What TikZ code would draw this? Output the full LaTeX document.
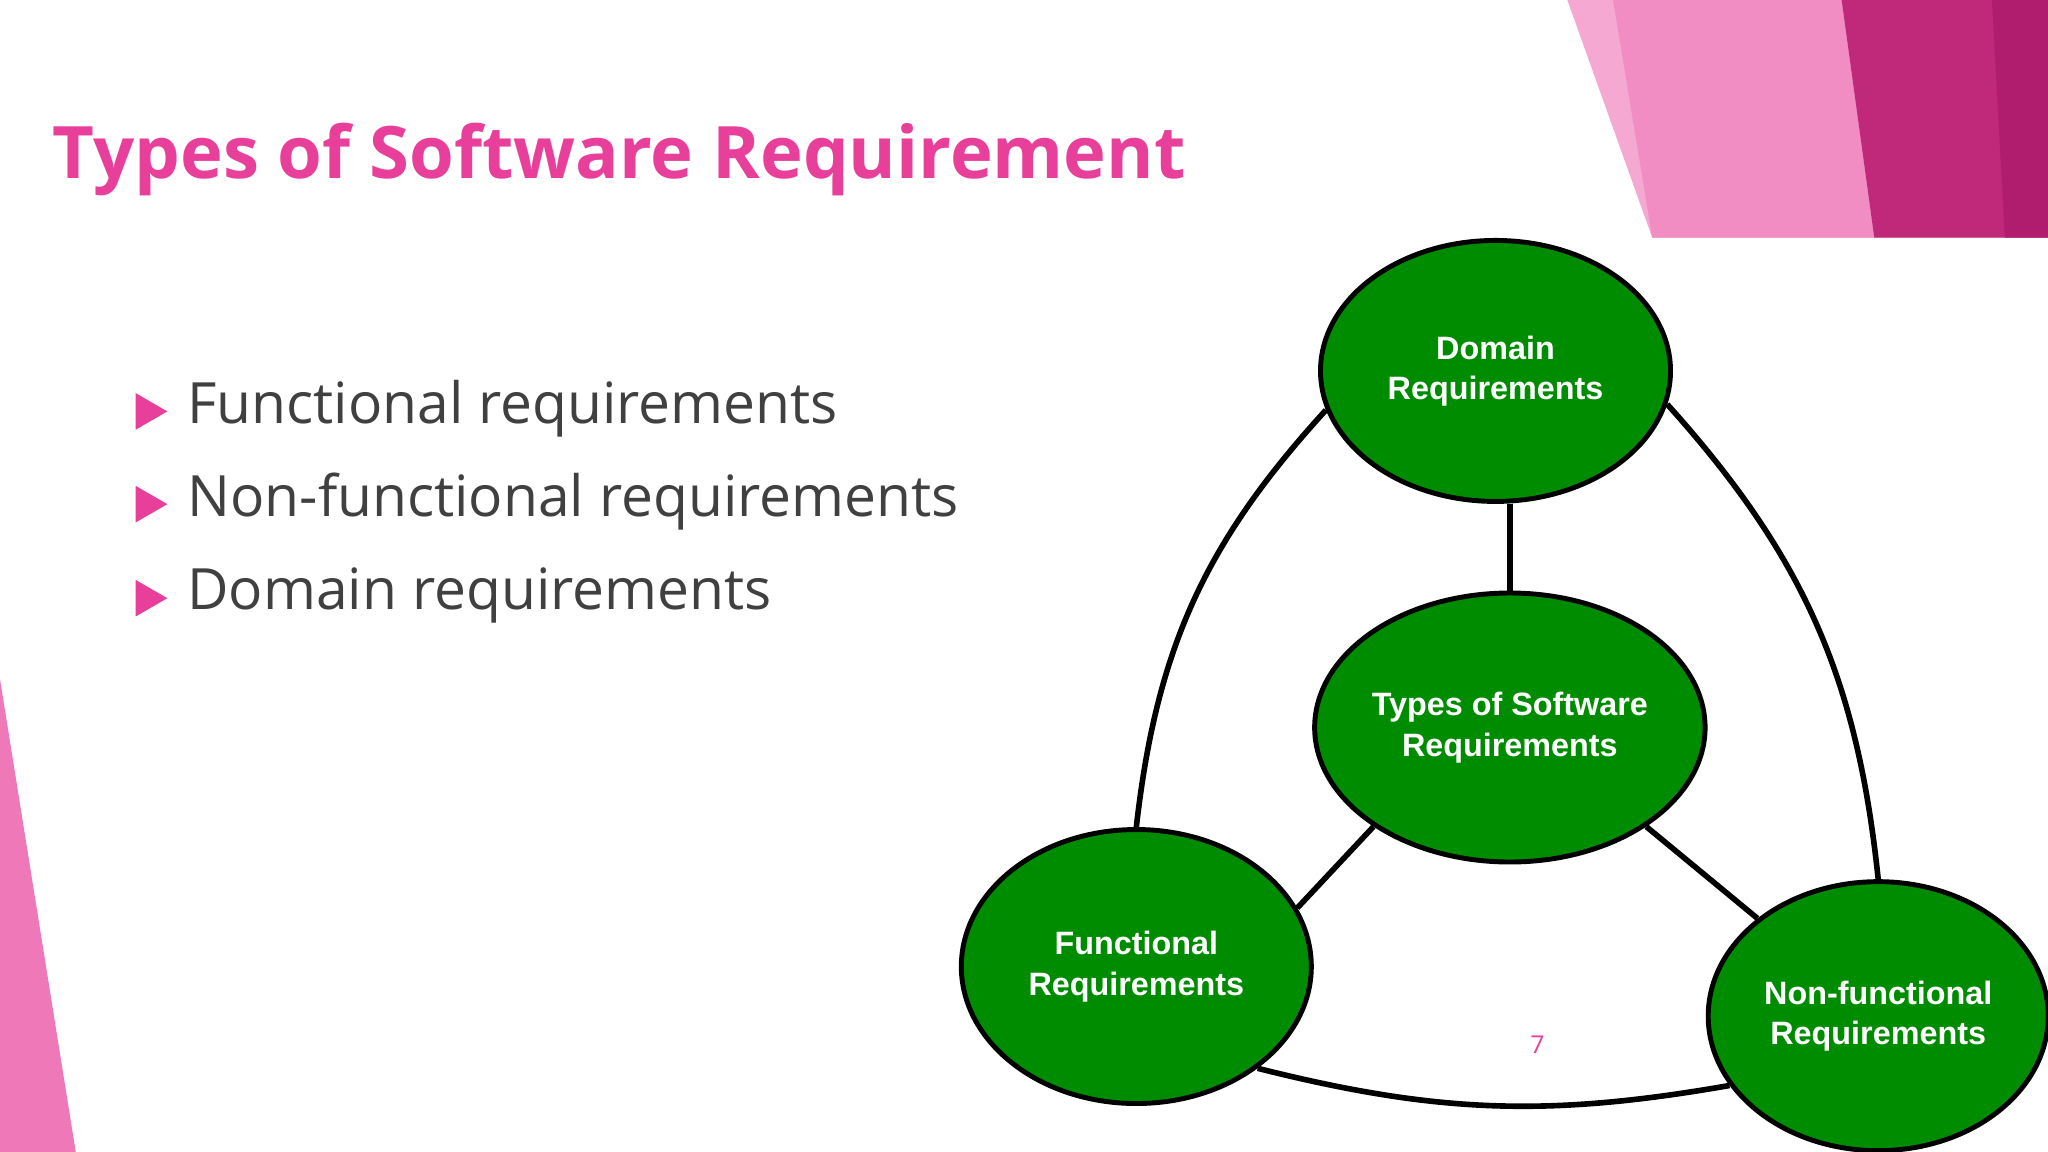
\documentclass[tikz,border=0pt]{standalone}
\usepackage{fontspec}
\setmainfont{Open Sans}
\newfontfamily\nodefont{Liberation Sans}
\usetikzlibrary{shapes.geometric}
\definecolor{pinkT}{HTML}{E8409A}
\definecolor{greenN}{HTML}{008C00}
\definecolor{mag}{HTML}{C0287A}
\definecolor{magd}{HTML}{B01C6E}
\tikzset{
  req/.style={ellipse,draw=black,line width=1.4pt,fill=greenN,text=white,font=\nodefont\bfseries\fontsize{9.2}{11.5}\selectfont,align=center,inner sep=0pt},
  link/.style={line width=1.6pt,black},
  bul/.style={anchor=west,text=black!75,font=\fontsize{16.2}{19}\selectfont,inner sep=0pt},
  tri/.style={regular polygon,regular polygon sides=3,shape border rotate=-90,fill=pinkT,inner sep=0pt,minimum size=12pt}
}
\begin{document}
\begin{tikzpicture}[x=0.013061cm,y=-0.013061cm]
\useasboundingbox (0,0) rectangle (1568,882);
\fill[white] (0,0) rectangle (1568,882);
% decorations
\fill[pinkT!45] (1200,0) -- (1568,0) -- (1568,182) -- (1265,182) -- cycle;
\fill[pinkT!60] (1235,0) -- (1410,0) -- (1435,182) -- (1265,182) -- cycle;
\fill[mag] (1410,0) -- (1568,0) -- (1568,182) -- (1435,182) -- cycle;
\fill[magd] (1525,0) -- (1568,0) -- (1568,182) -- (1535,182) -- cycle;
\fill[pinkT!70] (0,520) -- (0,882) -- (58,882) -- cycle;
% title
\node[anchor=west,text=pinkT,font=\bfseries\fontsize{20.6}{24}\selectfont,inner sep=0pt] (title) at (40,122) {Types of Software Requirement};
% bullets
\node[tri] (t1) at (112,315) {};
\node[bul] (b1) at (143,313) {Functional requirements};
\node[tri] (t2) at (112,386) {};
\node[bul] (b2) at (143,384) {Non-functional requirements};
\node[tri] (t3) at (112,458) {};
\node[bul] (b3) at (143,456) {Domain requirements};
% page number
\node[text=pinkT,font=\fontsize{7}{8}\selectfont] (pg) at (1177,800) {7};
% diagram
\node[req,minimum width=3.5cm,minimum height=2.61cm] (dom) at (1145,284) {Domain\\Requirements};
\node[req,minimum width=3.76cm,minimum height=2.69cm] (typ) at (1156,557) {Types of Software\\Requirements};
\node[req,minimum width=3.5cm,minimum height=2.74cm] (fun) at (870,740) {Functional\\Requirements};
\node[req,minimum width=3.4cm,minimum height=2.69cm] (non) at (1438,778) {Non-functional\\Requirements};
\draw[link] (dom.south -| typ.north) -- (typ.north);
\draw[link] (typ.216) -- (fun.20);
\draw[link] (typ.324) -- (non.141);
\draw[link] (dom.193) to[bend right=18] (fun.north);
\draw[link] (dom.349) to[bend left=18] (non.north);
\draw[link] (fun.320) to[bend right=12] (non.205);
\end{tikzpicture}
\end{document}
